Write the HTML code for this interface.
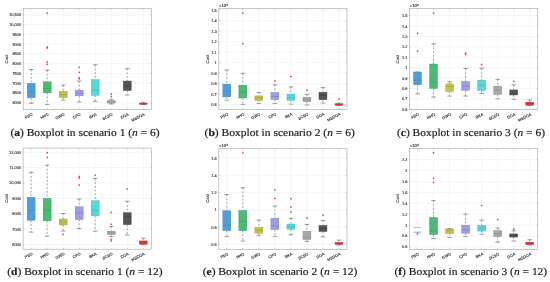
<!DOCTYPE html>
<html><head><meta charset="utf-8"><title>Boxplots</title>
<style>
html,body{margin:0;padding:0;background:#fff;}
body{width:550px;height:282px;overflow:hidden;}
svg{display:block;text-rendering:geometricPrecision;}
.tk{font-family:"Liberation Sans",Arial,sans-serif;font-size:3.9px;fill:#333;stroke:#333;stroke-width:0.14px;}
.xl{font-family:"Liberation Sans",Arial,sans-serif;font-size:3.9px;fill:#333;stroke:#333;stroke-width:0.14px;}
.yl{font-family:"Liberation Sans",Arial,sans-serif;font-size:4.2px;fill:#333;stroke:#333;stroke-width:0.08px;}
.cap{font-family:"Liberation Serif","Times New Roman",serif;font-size:10.6px;fill:#1a1a1a;stroke:#1a1a1a;stroke-width:0.18px;}
</style></head><body>
<svg width="550" height="282" viewBox="0 0 550 282">
<rect width="550" height="282" fill="#fff"/>
<line x1="23.20" y1="102.80" x2="151.30" y2="102.80" stroke="#ededed" stroke-width="0.5"/>
<line x1="23.20" y1="93.02" x2="151.30" y2="93.02" stroke="#ededed" stroke-width="0.5"/>
<line x1="23.20" y1="83.24" x2="151.30" y2="83.24" stroke="#ededed" stroke-width="0.5"/>
<line x1="23.20" y1="73.46" x2="151.30" y2="73.46" stroke="#ededed" stroke-width="0.5"/>
<line x1="23.20" y1="63.68" x2="151.30" y2="63.68" stroke="#ededed" stroke-width="0.5"/>
<line x1="23.20" y1="53.90" x2="151.30" y2="53.90" stroke="#ededed" stroke-width="0.5"/>
<line x1="23.20" y1="44.12" x2="151.30" y2="44.12" stroke="#ededed" stroke-width="0.5"/>
<line x1="23.20" y1="34.34" x2="151.30" y2="34.34" stroke="#ededed" stroke-width="0.5"/>
<line x1="23.20" y1="24.56" x2="151.30" y2="24.56" stroke="#ededed" stroke-width="0.5"/>
<line x1="23.20" y1="14.78" x2="151.30" y2="14.78" stroke="#ededed" stroke-width="0.5"/>
<line x1="31.21" y1="8.30" x2="31.21" y2="109.70" stroke="#ededed" stroke-width="0.5"/>
<line x1="47.22" y1="8.30" x2="47.22" y2="109.70" stroke="#ededed" stroke-width="0.5"/>
<line x1="63.23" y1="8.30" x2="63.23" y2="109.70" stroke="#ededed" stroke-width="0.5"/>
<line x1="79.24" y1="8.30" x2="79.24" y2="109.70" stroke="#ededed" stroke-width="0.5"/>
<line x1="95.26" y1="8.30" x2="95.26" y2="109.70" stroke="#ededed" stroke-width="0.5"/>
<line x1="111.27" y1="8.30" x2="111.27" y2="109.70" stroke="#ededed" stroke-width="0.5"/>
<line x1="127.28" y1="8.30" x2="127.28" y2="109.70" stroke="#ededed" stroke-width="0.5"/>
<line x1="143.29" y1="8.30" x2="143.29" y2="109.70" stroke="#ededed" stroke-width="0.5"/>
<line x1="31.21" y1="69.50" x2="31.21" y2="83.30" stroke="#585858" stroke-width="0.55" stroke-dasharray="1.8,1.9"/>
<line x1="31.21" y1="97.80" x2="31.21" y2="103.30" stroke="#585858" stroke-width="0.55" stroke-dasharray="1.8,1.9"/>
<line x1="28.91" y1="69.50" x2="33.51" y2="69.50" stroke="#444" stroke-width="0.5"/>
<line x1="28.91" y1="103.30" x2="33.51" y2="103.30" stroke="#444" stroke-width="0.5"/>
<rect x="27.21" y="83.30" width="8" height="14.50" fill="#4d9fdc" stroke="#3479ad" stroke-width="0.3"/>
<line x1="27.21" y1="92.00" x2="35.21" y2="92.00" stroke="#3479ad" stroke-width="0.5" stroke-opacity="0.8"/>
<line x1="47.22" y1="70.10" x2="47.22" y2="81.80" stroke="#585858" stroke-width="0.55" stroke-dasharray="1.8,1.9"/>
<line x1="47.22" y1="92.90" x2="47.22" y2="104.40" stroke="#585858" stroke-width="0.55" stroke-dasharray="1.8,1.9"/>
<line x1="44.92" y1="70.10" x2="49.52" y2="70.10" stroke="#444" stroke-width="0.5"/>
<line x1="44.92" y1="104.40" x2="49.52" y2="104.40" stroke="#444" stroke-width="0.5"/>
<rect x="43.22" y="81.80" width="8" height="11.10" fill="#4bbb73" stroke="#2f8a50" stroke-width="0.3"/>
<line x1="43.22" y1="88.40" x2="51.22" y2="88.40" stroke="#2f8a50" stroke-width="0.5" stroke-opacity="0.8"/>
<path d="M46.27 13.20h1.9M47.22 12.25v1.9" stroke="#d8344c" stroke-width="0.7"/>
<path d="M46.27 47.00h1.9M47.22 46.05v1.9" stroke="#d8344c" stroke-width="0.7"/>
<path d="M46.27 48.00h1.9M47.22 47.05v1.9" stroke="#d8344c" stroke-width="0.7"/>
<path d="M46.27 62.00h1.9M47.22 61.05v1.9" stroke="#d8344c" stroke-width="0.7"/>
<path d="M46.27 64.40h1.9M47.22 63.45v1.9" stroke="#d8344c" stroke-width="0.7"/>
<line x1="63.23" y1="85.20" x2="63.23" y2="91.20" stroke="#585858" stroke-width="0.55" stroke-dasharray="1.8,1.9"/>
<line x1="63.23" y1="97.60" x2="63.23" y2="100.10" stroke="#585858" stroke-width="0.55" stroke-dasharray="1.8,1.9"/>
<line x1="60.93" y1="85.20" x2="65.53" y2="85.20" stroke="#444" stroke-width="0.5"/>
<line x1="60.93" y1="100.10" x2="65.53" y2="100.10" stroke="#444" stroke-width="0.5"/>
<rect x="59.23" y="91.20" width="8" height="6.40" fill="#c0c24a" stroke="#8c8e22" stroke-width="0.3"/>
<line x1="59.23" y1="94.80" x2="67.23" y2="94.80" stroke="#8c8e22" stroke-width="0.5" stroke-opacity="0.8"/>
<line x1="79.24" y1="81.00" x2="79.24" y2="90.10" stroke="#585858" stroke-width="0.55" stroke-dasharray="1.8,1.9"/>
<line x1="79.24" y1="95.90" x2="79.24" y2="102.00" stroke="#585858" stroke-width="0.55" stroke-dasharray="1.8,1.9"/>
<line x1="76.94" y1="81.00" x2="81.54" y2="81.00" stroke="#444" stroke-width="0.5"/>
<line x1="76.94" y1="102.00" x2="81.54" y2="102.00" stroke="#444" stroke-width="0.5"/>
<rect x="75.24" y="90.10" width="8" height="5.80" fill="#9d9de8" stroke="#6c6cc0" stroke-width="0.3"/>
<line x1="75.24" y1="93.30" x2="83.24" y2="93.30" stroke="#6c6cc0" stroke-width="0.5" stroke-opacity="0.8"/>
<path d="M78.29 67.30h1.9M79.24 66.35v1.9" stroke="#d8344c" stroke-width="0.7"/>
<path d="M78.29 72.40h1.9M79.24 71.45v1.9" stroke="#d8344c" stroke-width="0.7"/>
<path d="M78.29 77.80h1.9M79.24 76.85v1.9" stroke="#d8344c" stroke-width="0.7"/>
<path d="M78.29 78.80h1.9M79.24 77.85v1.9" stroke="#d8344c" stroke-width="0.7"/>
<line x1="95.26" y1="64.80" x2="95.26" y2="79.50" stroke="#585858" stroke-width="0.55" stroke-dasharray="1.8,1.9"/>
<line x1="95.26" y1="95.40" x2="95.26" y2="101.40" stroke="#585858" stroke-width="0.55" stroke-dasharray="1.8,1.9"/>
<line x1="92.96" y1="64.80" x2="97.56" y2="64.80" stroke="#444" stroke-width="0.5"/>
<line x1="92.96" y1="101.40" x2="97.56" y2="101.40" stroke="#444" stroke-width="0.5"/>
<rect x="91.26" y="79.50" width="8" height="15.90" fill="#58d7d7" stroke="#2ea3a3" stroke-width="0.3"/>
<line x1="91.26" y1="90.10" x2="99.26" y2="90.10" stroke="#2ea3a3" stroke-width="0.5" stroke-opacity="0.8"/>
<line x1="111.27" y1="99.30" x2="111.27" y2="100.50" stroke="#585858" stroke-width="0.55" stroke-dasharray="1.8,1.9"/>
<line x1="111.27" y1="103.10" x2="111.27" y2="104.00" stroke="#585858" stroke-width="0.55" stroke-dasharray="1.8,1.9"/>
<line x1="108.97" y1="99.30" x2="113.57" y2="99.30" stroke="#444" stroke-width="0.5"/>
<line x1="108.97" y1="104.00" x2="113.57" y2="104.00" stroke="#444" stroke-width="0.5"/>
<rect x="107.27" y="100.50" width="8" height="2.60" fill="#a8a8a8" stroke="#777777" stroke-width="0.3"/>
<line x1="107.27" y1="102.00" x2="115.27" y2="102.00" stroke="#777777" stroke-width="0.5" stroke-opacity="0.8"/>
<path d="M110.32 94.10h1.9M111.27 93.15v1.9" stroke="#d8344c" stroke-width="0.7"/>
<path d="M110.32 96.70h1.9M111.27 95.75v1.9" stroke="#d8344c" stroke-width="0.7"/>
<line x1="127.28" y1="68.70" x2="127.28" y2="81.00" stroke="#585858" stroke-width="0.55" stroke-dasharray="1.8,1.9"/>
<line x1="127.28" y1="90.60" x2="127.28" y2="95.00" stroke="#585858" stroke-width="0.55" stroke-dasharray="1.8,1.9"/>
<line x1="124.98" y1="68.70" x2="129.58" y2="68.70" stroke="#444" stroke-width="0.5"/>
<line x1="124.98" y1="95.00" x2="129.58" y2="95.00" stroke="#444" stroke-width="0.5"/>
<rect x="123.28" y="81.00" width="8" height="9.60" fill="#555555" stroke="#333333" stroke-width="0.3"/>
<line x1="123.28" y1="85.90" x2="131.28" y2="85.90" stroke="#333333" stroke-width="0.5" stroke-opacity="0.8"/>
<line x1="143.29" y1="102.20" x2="143.29" y2="103.10" stroke="#585858" stroke-width="0.55" stroke-dasharray="1.8,1.9"/>
<line x1="140.99" y1="102.20" x2="145.59" y2="102.20" stroke="#444" stroke-width="0.5"/>
<line x1="140.99" y1="104.60" x2="145.59" y2="104.60" stroke="#444" stroke-width="0.5"/>
<rect x="139.29" y="103.10" width="8" height="1.30" fill="#e8383a" stroke="#b81c1e" stroke-width="0.3"/>
<line x1="139.29" y1="103.70" x2="147.29" y2="103.70" stroke="#b81c1e" stroke-width="0.5" stroke-opacity="0.8"/>
<rect x="23.20" y="8.30" width="128.10" height="101.40" fill="none" stroke="#a6a6a6" stroke-width="0.6"/>
<line x1="23.20" y1="102.80" x2="24.40" y2="102.80" stroke="#a6a6a6" stroke-width="0.5"/>
<line x1="150.10" y1="102.80" x2="151.30" y2="102.80" stroke="#a6a6a6" stroke-width="0.5"/>
<text x="21.10" y="104.25" text-anchor="end" class="tk">6000</text>
<line x1="23.20" y1="93.02" x2="24.40" y2="93.02" stroke="#a6a6a6" stroke-width="0.5"/>
<line x1="150.10" y1="93.02" x2="151.30" y2="93.02" stroke="#a6a6a6" stroke-width="0.5"/>
<text x="21.10" y="94.47" text-anchor="end" class="tk">6500</text>
<line x1="23.20" y1="83.24" x2="24.40" y2="83.24" stroke="#a6a6a6" stroke-width="0.5"/>
<line x1="150.10" y1="83.24" x2="151.30" y2="83.24" stroke="#a6a6a6" stroke-width="0.5"/>
<text x="21.10" y="84.69" text-anchor="end" class="tk">7000</text>
<line x1="23.20" y1="73.46" x2="24.40" y2="73.46" stroke="#a6a6a6" stroke-width="0.5"/>
<line x1="150.10" y1="73.46" x2="151.30" y2="73.46" stroke="#a6a6a6" stroke-width="0.5"/>
<text x="21.10" y="74.91" text-anchor="end" class="tk">7500</text>
<line x1="23.20" y1="63.68" x2="24.40" y2="63.68" stroke="#a6a6a6" stroke-width="0.5"/>
<line x1="150.10" y1="63.68" x2="151.30" y2="63.68" stroke="#a6a6a6" stroke-width="0.5"/>
<text x="21.10" y="65.13" text-anchor="end" class="tk">8000</text>
<line x1="23.20" y1="53.90" x2="24.40" y2="53.90" stroke="#a6a6a6" stroke-width="0.5"/>
<line x1="150.10" y1="53.90" x2="151.30" y2="53.90" stroke="#a6a6a6" stroke-width="0.5"/>
<text x="21.10" y="55.35" text-anchor="end" class="tk">8500</text>
<line x1="23.20" y1="44.12" x2="24.40" y2="44.12" stroke="#a6a6a6" stroke-width="0.5"/>
<line x1="150.10" y1="44.12" x2="151.30" y2="44.12" stroke="#a6a6a6" stroke-width="0.5"/>
<text x="21.10" y="45.57" text-anchor="end" class="tk">9000</text>
<line x1="23.20" y1="34.34" x2="24.40" y2="34.34" stroke="#a6a6a6" stroke-width="0.5"/>
<line x1="150.10" y1="34.34" x2="151.30" y2="34.34" stroke="#a6a6a6" stroke-width="0.5"/>
<text x="21.10" y="35.79" text-anchor="end" class="tk">9500</text>
<line x1="23.20" y1="24.56" x2="24.40" y2="24.56" stroke="#a6a6a6" stroke-width="0.5"/>
<line x1="150.10" y1="24.56" x2="151.30" y2="24.56" stroke="#a6a6a6" stroke-width="0.5"/>
<text x="21.10" y="26.01" text-anchor="end" class="tk">10,000</text>
<line x1="23.20" y1="14.78" x2="24.40" y2="14.78" stroke="#a6a6a6" stroke-width="0.5"/>
<line x1="150.10" y1="14.78" x2="151.30" y2="14.78" stroke="#a6a6a6" stroke-width="0.5"/>
<text x="21.10" y="16.23" text-anchor="end" class="tk">10,500</text>
<line x1="31.21" y1="109.70" x2="31.21" y2="108.50" stroke="#a6a6a6" stroke-width="0.5"/>
<line x1="31.21" y1="8.30" x2="31.21" y2="9.50" stroke="#a6a6a6" stroke-width="0.5"/>
<text transform="translate(31.81,112.90) rotate(-27)" text-anchor="end" class="xl" dy="2.6">PSO</text>
<line x1="47.22" y1="109.70" x2="47.22" y2="108.50" stroke="#a6a6a6" stroke-width="0.5"/>
<line x1="47.22" y1="8.30" x2="47.22" y2="9.50" stroke="#a6a6a6" stroke-width="0.5"/>
<text transform="translate(47.82,112.90) rotate(-27)" text-anchor="end" class="xl" dy="2.6">HHO</text>
<line x1="63.23" y1="109.70" x2="63.23" y2="108.50" stroke="#a6a6a6" stroke-width="0.5"/>
<line x1="63.23" y1="8.30" x2="63.23" y2="9.50" stroke="#a6a6a6" stroke-width="0.5"/>
<text transform="translate(63.83,112.90) rotate(-27)" text-anchor="end" class="xl" dy="2.6">GWO</text>
<line x1="79.24" y1="109.70" x2="79.24" y2="108.50" stroke="#a6a6a6" stroke-width="0.5"/>
<line x1="79.24" y1="8.30" x2="79.24" y2="9.50" stroke="#a6a6a6" stroke-width="0.5"/>
<text transform="translate(79.84,112.90) rotate(-27)" text-anchor="end" class="xl" dy="2.6">CPO</text>
<line x1="95.26" y1="109.70" x2="95.26" y2="108.50" stroke="#a6a6a6" stroke-width="0.5"/>
<line x1="95.26" y1="8.30" x2="95.26" y2="9.50" stroke="#a6a6a6" stroke-width="0.5"/>
<text transform="translate(95.86,112.90) rotate(-27)" text-anchor="end" class="xl" dy="2.6">BKA</text>
<line x1="111.27" y1="109.70" x2="111.27" y2="108.50" stroke="#a6a6a6" stroke-width="0.5"/>
<line x1="111.27" y1="8.30" x2="111.27" y2="9.50" stroke="#a6a6a6" stroke-width="0.5"/>
<text transform="translate(111.87,112.90) rotate(-27)" text-anchor="end" class="xl" dy="2.6">SCSO</text>
<line x1="127.28" y1="109.70" x2="127.28" y2="108.50" stroke="#a6a6a6" stroke-width="0.5"/>
<line x1="127.28" y1="8.30" x2="127.28" y2="9.50" stroke="#a6a6a6" stroke-width="0.5"/>
<text transform="translate(127.88,112.90) rotate(-27)" text-anchor="end" class="xl" dy="2.6">DOA</text>
<line x1="143.29" y1="109.70" x2="143.29" y2="108.50" stroke="#a6a6a6" stroke-width="0.5"/>
<line x1="143.29" y1="8.30" x2="143.29" y2="9.50" stroke="#a6a6a6" stroke-width="0.5"/>
<text transform="translate(143.89,112.90) rotate(-27)" text-anchor="end" class="xl" dy="2.6">MSDOA</text>
<text transform="translate(7.90,59.20) rotate(-90)" text-anchor="middle" class="yl">Cost</text>
<text x="10.40" y="135.80" class="cap" textLength="149.30" lengthAdjust="spacingAndGlyphs">(<tspan font-weight="bold">a</tspan>) Boxplot in scenario 1 (<tspan font-style="italic">n</tspan> = 6)</text>
<line x1="218.80" y1="104.60" x2="347.00" y2="104.60" stroke="#ededed" stroke-width="0.5"/>
<line x1="218.80" y1="94.11" x2="347.00" y2="94.11" stroke="#ededed" stroke-width="0.5"/>
<line x1="218.80" y1="83.62" x2="347.00" y2="83.62" stroke="#ededed" stroke-width="0.5"/>
<line x1="218.80" y1="73.13" x2="347.00" y2="73.13" stroke="#ededed" stroke-width="0.5"/>
<line x1="218.80" y1="62.64" x2="347.00" y2="62.64" stroke="#ededed" stroke-width="0.5"/>
<line x1="218.80" y1="52.15" x2="347.00" y2="52.15" stroke="#ededed" stroke-width="0.5"/>
<line x1="218.80" y1="41.66" x2="347.00" y2="41.66" stroke="#ededed" stroke-width="0.5"/>
<line x1="218.80" y1="31.17" x2="347.00" y2="31.17" stroke="#ededed" stroke-width="0.5"/>
<line x1="218.80" y1="20.68" x2="347.00" y2="20.68" stroke="#ededed" stroke-width="0.5"/>
<line x1="218.80" y1="10.19" x2="347.00" y2="10.19" stroke="#ededed" stroke-width="0.5"/>
<line x1="226.81" y1="8.50" x2="226.81" y2="109.50" stroke="#ededed" stroke-width="0.5"/>
<line x1="242.84" y1="8.50" x2="242.84" y2="109.50" stroke="#ededed" stroke-width="0.5"/>
<line x1="258.86" y1="8.50" x2="258.86" y2="109.50" stroke="#ededed" stroke-width="0.5"/>
<line x1="274.89" y1="8.50" x2="274.89" y2="109.50" stroke="#ededed" stroke-width="0.5"/>
<line x1="290.91" y1="8.50" x2="290.91" y2="109.50" stroke="#ededed" stroke-width="0.5"/>
<line x1="306.94" y1="8.50" x2="306.94" y2="109.50" stroke="#ededed" stroke-width="0.5"/>
<line x1="322.96" y1="8.50" x2="322.96" y2="109.50" stroke="#ededed" stroke-width="0.5"/>
<line x1="338.99" y1="8.50" x2="338.99" y2="109.50" stroke="#ededed" stroke-width="0.5"/>
<line x1="226.81" y1="69.90" x2="226.81" y2="84.10" stroke="#585858" stroke-width="0.55" stroke-dasharray="1.8,1.9"/>
<line x1="226.81" y1="96.90" x2="226.81" y2="100.10" stroke="#585858" stroke-width="0.55" stroke-dasharray="1.8,1.9"/>
<line x1="224.51" y1="69.90" x2="229.11" y2="69.90" stroke="#444" stroke-width="0.5"/>
<line x1="224.51" y1="100.10" x2="229.11" y2="100.10" stroke="#444" stroke-width="0.5"/>
<rect x="222.81" y="84.10" width="8" height="12.80" fill="#4d9fdc" stroke="#3479ad" stroke-width="0.3"/>
<line x1="222.81" y1="91.20" x2="230.81" y2="91.20" stroke="#3479ad" stroke-width="0.5" stroke-opacity="0.8"/>
<line x1="242.84" y1="73.30" x2="242.84" y2="85.20" stroke="#585858" stroke-width="0.55" stroke-dasharray="1.8,1.9"/>
<line x1="242.84" y1="98.00" x2="242.84" y2="104.40" stroke="#585858" stroke-width="0.55" stroke-dasharray="1.8,1.9"/>
<line x1="240.54" y1="73.30" x2="245.14" y2="73.30" stroke="#444" stroke-width="0.5"/>
<line x1="240.54" y1="104.40" x2="245.14" y2="104.40" stroke="#444" stroke-width="0.5"/>
<rect x="238.84" y="85.20" width="8" height="12.80" fill="#4bbb73" stroke="#2f8a50" stroke-width="0.3"/>
<line x1="238.84" y1="92.20" x2="246.84" y2="92.20" stroke="#2f8a50" stroke-width="0.5" stroke-opacity="0.8"/>
<path d="M241.89 13.20h1.9M242.84 12.25v1.9" stroke="#d8344c" stroke-width="0.7"/>
<path d="M241.89 43.60h1.9M242.84 42.65v1.9" stroke="#d8344c" stroke-width="0.7"/>
<line x1="258.86" y1="92.40" x2="258.86" y2="95.90" stroke="#585858" stroke-width="0.55" stroke-dasharray="1.8,1.9"/>
<line x1="258.86" y1="100.50" x2="258.86" y2="103.50" stroke="#585858" stroke-width="0.55" stroke-dasharray="1.8,1.9"/>
<line x1="256.56" y1="92.40" x2="261.16" y2="92.40" stroke="#444" stroke-width="0.5"/>
<line x1="256.56" y1="103.50" x2="261.16" y2="103.50" stroke="#444" stroke-width="0.5"/>
<rect x="254.86" y="95.90" width="8" height="4.60" fill="#c0c24a" stroke="#8c8e22" stroke-width="0.3"/>
<line x1="254.86" y1="98.20" x2="262.86" y2="98.20" stroke="#8c8e22" stroke-width="0.5" stroke-opacity="0.8"/>
<line x1="274.89" y1="84.80" x2="274.89" y2="92.40" stroke="#585858" stroke-width="0.55" stroke-dasharray="1.8,1.9"/>
<line x1="274.89" y1="99.70" x2="274.89" y2="103.50" stroke="#585858" stroke-width="0.55" stroke-dasharray="1.8,1.9"/>
<line x1="272.59" y1="84.80" x2="277.19" y2="84.80" stroke="#444" stroke-width="0.5"/>
<line x1="272.59" y1="103.50" x2="277.19" y2="103.50" stroke="#444" stroke-width="0.5"/>
<rect x="270.89" y="92.40" width="8" height="7.30" fill="#9d9de8" stroke="#6c6cc0" stroke-width="0.3"/>
<line x1="270.89" y1="96.50" x2="278.89" y2="96.50" stroke="#6c6cc0" stroke-width="0.5" stroke-opacity="0.8"/>
<path d="M273.94 81.00h1.9M274.89 80.05v1.9" stroke="#d8344c" stroke-width="0.7"/>
<line x1="290.91" y1="86.90" x2="290.91" y2="94.10" stroke="#585858" stroke-width="0.55" stroke-dasharray="1.8,1.9"/>
<line x1="290.91" y1="100.50" x2="290.91" y2="104.10" stroke="#585858" stroke-width="0.55" stroke-dasharray="1.8,1.9"/>
<line x1="288.61" y1="86.90" x2="293.21" y2="86.90" stroke="#444" stroke-width="0.5"/>
<line x1="288.61" y1="104.10" x2="293.21" y2="104.10" stroke="#444" stroke-width="0.5"/>
<rect x="286.91" y="94.10" width="8" height="6.40" fill="#58d7d7" stroke="#2ea3a3" stroke-width="0.3"/>
<line x1="286.91" y1="98.00" x2="294.91" y2="98.00" stroke="#2ea3a3" stroke-width="0.5" stroke-opacity="0.8"/>
<path d="M289.96 76.50h1.9M290.91 75.55v1.9" stroke="#d8344c" stroke-width="0.7"/>
<line x1="306.94" y1="94.40" x2="306.94" y2="97.30" stroke="#585858" stroke-width="0.55" stroke-dasharray="1.8,1.9"/>
<line x1="306.94" y1="101.80" x2="306.94" y2="105.00" stroke="#585858" stroke-width="0.55" stroke-dasharray="1.8,1.9"/>
<line x1="304.64" y1="94.40" x2="309.24" y2="94.40" stroke="#444" stroke-width="0.5"/>
<line x1="304.64" y1="105.00" x2="309.24" y2="105.00" stroke="#444" stroke-width="0.5"/>
<rect x="302.94" y="97.30" width="8" height="4.50" fill="#a8a8a8" stroke="#777777" stroke-width="0.3"/>
<line x1="302.94" y1="99.30" x2="310.94" y2="99.30" stroke="#777777" stroke-width="0.5" stroke-opacity="0.8"/>
<path d="M305.99 90.10h1.9M306.94 89.15v1.9" stroke="#d8344c" stroke-width="0.7"/>
<line x1="322.96" y1="87.60" x2="322.96" y2="92.20" stroke="#585858" stroke-width="0.55" stroke-dasharray="1.8,1.9"/>
<line x1="322.96" y1="99.70" x2="322.96" y2="103.10" stroke="#585858" stroke-width="0.55" stroke-dasharray="1.8,1.9"/>
<line x1="320.66" y1="87.60" x2="325.26" y2="87.60" stroke="#444" stroke-width="0.5"/>
<line x1="320.66" y1="103.10" x2="325.26" y2="103.10" stroke="#444" stroke-width="0.5"/>
<rect x="318.96" y="92.20" width="8" height="7.50" fill="#555555" stroke="#333333" stroke-width="0.3"/>
<line x1="318.96" y1="95.40" x2="326.96" y2="95.40" stroke="#333333" stroke-width="0.5" stroke-opacity="0.8"/>
<line x1="338.99" y1="103.20" x2="338.99" y2="103.70" stroke="#585858" stroke-width="0.55" stroke-dasharray="1.8,1.9"/>
<line x1="336.69" y1="103.20" x2="341.29" y2="103.20" stroke="#444" stroke-width="0.5"/>
<line x1="336.69" y1="105.50" x2="341.29" y2="105.50" stroke="#444" stroke-width="0.5"/>
<rect x="334.99" y="103.70" width="8" height="1.50" fill="#e8383a" stroke="#b81c1e" stroke-width="0.3"/>
<line x1="334.99" y1="104.40" x2="342.99" y2="104.40" stroke="#b81c1e" stroke-width="0.5" stroke-opacity="0.8"/>
<path d="M338.04 99.00h1.9M338.99 98.05v1.9" stroke="#d8344c" stroke-width="0.7"/>
<rect x="218.80" y="8.50" width="128.20" height="101.00" fill="none" stroke="#a6a6a6" stroke-width="0.6"/>
<line x1="218.80" y1="104.60" x2="220.00" y2="104.60" stroke="#a6a6a6" stroke-width="0.5"/>
<line x1="345.80" y1="104.60" x2="347.00" y2="104.60" stroke="#a6a6a6" stroke-width="0.5"/>
<text x="216.70" y="106.05" text-anchor="end" class="tk">0.6</text>
<line x1="218.80" y1="94.11" x2="220.00" y2="94.11" stroke="#a6a6a6" stroke-width="0.5"/>
<line x1="345.80" y1="94.11" x2="347.00" y2="94.11" stroke="#a6a6a6" stroke-width="0.5"/>
<text x="216.70" y="95.56" text-anchor="end" class="tk">0.7</text>
<line x1="218.80" y1="83.62" x2="220.00" y2="83.62" stroke="#a6a6a6" stroke-width="0.5"/>
<line x1="345.80" y1="83.62" x2="347.00" y2="83.62" stroke="#a6a6a6" stroke-width="0.5"/>
<text x="216.70" y="85.07" text-anchor="end" class="tk">0.8</text>
<line x1="218.80" y1="73.13" x2="220.00" y2="73.13" stroke="#a6a6a6" stroke-width="0.5"/>
<line x1="345.80" y1="73.13" x2="347.00" y2="73.13" stroke="#a6a6a6" stroke-width="0.5"/>
<text x="216.70" y="74.58" text-anchor="end" class="tk">0.9</text>
<line x1="218.80" y1="62.64" x2="220.00" y2="62.64" stroke="#a6a6a6" stroke-width="0.5"/>
<line x1="345.80" y1="62.64" x2="347.00" y2="62.64" stroke="#a6a6a6" stroke-width="0.5"/>
<text x="216.70" y="64.09" text-anchor="end" class="tk">1</text>
<line x1="218.80" y1="52.15" x2="220.00" y2="52.15" stroke="#a6a6a6" stroke-width="0.5"/>
<line x1="345.80" y1="52.15" x2="347.00" y2="52.15" stroke="#a6a6a6" stroke-width="0.5"/>
<text x="216.70" y="53.60" text-anchor="end" class="tk">1.1</text>
<line x1="218.80" y1="41.66" x2="220.00" y2="41.66" stroke="#a6a6a6" stroke-width="0.5"/>
<line x1="345.80" y1="41.66" x2="347.00" y2="41.66" stroke="#a6a6a6" stroke-width="0.5"/>
<text x="216.70" y="43.11" text-anchor="end" class="tk">1.2</text>
<line x1="218.80" y1="31.17" x2="220.00" y2="31.17" stroke="#a6a6a6" stroke-width="0.5"/>
<line x1="345.80" y1="31.17" x2="347.00" y2="31.17" stroke="#a6a6a6" stroke-width="0.5"/>
<text x="216.70" y="32.62" text-anchor="end" class="tk">1.3</text>
<line x1="218.80" y1="20.68" x2="220.00" y2="20.68" stroke="#a6a6a6" stroke-width="0.5"/>
<line x1="345.80" y1="20.68" x2="347.00" y2="20.68" stroke="#a6a6a6" stroke-width="0.5"/>
<text x="216.70" y="22.13" text-anchor="end" class="tk">1.4</text>
<line x1="218.80" y1="10.19" x2="220.00" y2="10.19" stroke="#a6a6a6" stroke-width="0.5"/>
<line x1="345.80" y1="10.19" x2="347.00" y2="10.19" stroke="#a6a6a6" stroke-width="0.5"/>
<text x="216.70" y="11.64" text-anchor="end" class="tk">1.5</text>
<line x1="226.81" y1="109.50" x2="226.81" y2="108.30" stroke="#a6a6a6" stroke-width="0.5"/>
<line x1="226.81" y1="8.50" x2="226.81" y2="9.70" stroke="#a6a6a6" stroke-width="0.5"/>
<text transform="translate(227.41,112.70) rotate(-27)" text-anchor="end" class="xl" dy="2.6">PSO</text>
<line x1="242.84" y1="109.50" x2="242.84" y2="108.30" stroke="#a6a6a6" stroke-width="0.5"/>
<line x1="242.84" y1="8.50" x2="242.84" y2="9.70" stroke="#a6a6a6" stroke-width="0.5"/>
<text transform="translate(243.44,112.70) rotate(-27)" text-anchor="end" class="xl" dy="2.6">HHO</text>
<line x1="258.86" y1="109.50" x2="258.86" y2="108.30" stroke="#a6a6a6" stroke-width="0.5"/>
<line x1="258.86" y1="8.50" x2="258.86" y2="9.70" stroke="#a6a6a6" stroke-width="0.5"/>
<text transform="translate(259.46,112.70) rotate(-27)" text-anchor="end" class="xl" dy="2.6">GWO</text>
<line x1="274.89" y1="109.50" x2="274.89" y2="108.30" stroke="#a6a6a6" stroke-width="0.5"/>
<line x1="274.89" y1="8.50" x2="274.89" y2="9.70" stroke="#a6a6a6" stroke-width="0.5"/>
<text transform="translate(275.49,112.70) rotate(-27)" text-anchor="end" class="xl" dy="2.6">CPO</text>
<line x1="290.91" y1="109.50" x2="290.91" y2="108.30" stroke="#a6a6a6" stroke-width="0.5"/>
<line x1="290.91" y1="8.50" x2="290.91" y2="9.70" stroke="#a6a6a6" stroke-width="0.5"/>
<text transform="translate(291.51,112.70) rotate(-27)" text-anchor="end" class="xl" dy="2.6">BKA</text>
<line x1="306.94" y1="109.50" x2="306.94" y2="108.30" stroke="#a6a6a6" stroke-width="0.5"/>
<line x1="306.94" y1="8.50" x2="306.94" y2="9.70" stroke="#a6a6a6" stroke-width="0.5"/>
<text transform="translate(307.54,112.70) rotate(-27)" text-anchor="end" class="xl" dy="2.6">SCSO</text>
<line x1="322.96" y1="109.50" x2="322.96" y2="108.30" stroke="#a6a6a6" stroke-width="0.5"/>
<line x1="322.96" y1="8.50" x2="322.96" y2="9.70" stroke="#a6a6a6" stroke-width="0.5"/>
<text transform="translate(323.56,112.70) rotate(-27)" text-anchor="end" class="xl" dy="2.6">DOA</text>
<line x1="338.99" y1="109.50" x2="338.99" y2="108.30" stroke="#a6a6a6" stroke-width="0.5"/>
<line x1="338.99" y1="8.50" x2="338.99" y2="9.70" stroke="#a6a6a6" stroke-width="0.5"/>
<text transform="translate(339.59,112.70) rotate(-27)" text-anchor="end" class="xl" dy="2.6">MSDOA</text>
<text transform="translate(208.70,59.20) rotate(-90)" text-anchor="middle" class="yl">Cost</text>
<text x="219.20" y="7.40" class="tk" style="font-size:4.3px"><tspan style="font-size:3.4px">&#215;</tspan><tspan dx="0.3">10</tspan><tspan dy="-1.6" style="font-size:3px">4</tspan></text>
<text x="204.60" y="135.80" class="cap" textLength="150.20" lengthAdjust="spacingAndGlyphs">(<tspan font-weight="bold">b</tspan>) Boxplot in scenario 2 (<tspan font-style="italic">n</tspan> = 6)</text>
<line x1="409.50" y1="109.30" x2="537.80" y2="109.30" stroke="#ededed" stroke-width="0.5"/>
<line x1="409.50" y1="98.90" x2="537.80" y2="98.90" stroke="#ededed" stroke-width="0.5"/>
<line x1="409.50" y1="88.50" x2="537.80" y2="88.50" stroke="#ededed" stroke-width="0.5"/>
<line x1="409.50" y1="78.10" x2="537.80" y2="78.10" stroke="#ededed" stroke-width="0.5"/>
<line x1="409.50" y1="67.70" x2="537.80" y2="67.70" stroke="#ededed" stroke-width="0.5"/>
<line x1="409.50" y1="57.30" x2="537.80" y2="57.30" stroke="#ededed" stroke-width="0.5"/>
<line x1="409.50" y1="46.90" x2="537.80" y2="46.90" stroke="#ededed" stroke-width="0.5"/>
<line x1="409.50" y1="36.50" x2="537.80" y2="36.50" stroke="#ededed" stroke-width="0.5"/>
<line x1="409.50" y1="26.10" x2="537.80" y2="26.10" stroke="#ededed" stroke-width="0.5"/>
<line x1="409.50" y1="15.70" x2="537.80" y2="15.70" stroke="#ededed" stroke-width="0.5"/>
<line x1="417.52" y1="8.50" x2="417.52" y2="109.70" stroke="#ededed" stroke-width="0.5"/>
<line x1="433.56" y1="8.50" x2="433.56" y2="109.70" stroke="#ededed" stroke-width="0.5"/>
<line x1="449.59" y1="8.50" x2="449.59" y2="109.70" stroke="#ededed" stroke-width="0.5"/>
<line x1="465.63" y1="8.50" x2="465.63" y2="109.70" stroke="#ededed" stroke-width="0.5"/>
<line x1="481.67" y1="8.50" x2="481.67" y2="109.70" stroke="#ededed" stroke-width="0.5"/>
<line x1="497.71" y1="8.50" x2="497.71" y2="109.70" stroke="#ededed" stroke-width="0.5"/>
<line x1="513.74" y1="8.50" x2="513.74" y2="109.70" stroke="#ededed" stroke-width="0.5"/>
<line x1="529.78" y1="8.50" x2="529.78" y2="109.70" stroke="#ededed" stroke-width="0.5"/>
<line x1="417.52" y1="84.80" x2="417.52" y2="93.90" stroke="#585858" stroke-width="0.55" stroke-dasharray="1.8,1.9"/>
<line x1="415.22" y1="72.00" x2="419.82" y2="72.00" stroke="#444" stroke-width="0.5"/>
<line x1="415.22" y1="93.90" x2="419.82" y2="93.90" stroke="#444" stroke-width="0.5"/>
<rect x="413.52" y="72.00" width="8" height="12.80" fill="#4d9fdc" stroke="#3479ad" stroke-width="0.3"/>
<line x1="413.52" y1="80.10" x2="421.52" y2="80.10" stroke="#3479ad" stroke-width="0.5" stroke-opacity="0.8"/>
<path d="M416.57 33.40h1.9M417.52 32.45v1.9" stroke="#d8344c" stroke-width="0.7"/>
<path d="M416.57 51.10h1.9M417.52 50.15v1.9" stroke="#d8344c" stroke-width="0.7"/>
<line x1="433.56" y1="43.80" x2="433.56" y2="64.00" stroke="#585858" stroke-width="0.55" stroke-dasharray="1.8,1.9"/>
<line x1="433.56" y1="88.50" x2="433.56" y2="97.10" stroke="#585858" stroke-width="0.55" stroke-dasharray="1.8,1.9"/>
<line x1="431.26" y1="43.80" x2="435.86" y2="43.80" stroke="#444" stroke-width="0.5"/>
<line x1="431.26" y1="97.10" x2="435.86" y2="97.10" stroke="#444" stroke-width="0.5"/>
<rect x="429.56" y="64.00" width="8" height="24.50" fill="#4bbb73" stroke="#2f8a50" stroke-width="0.3"/>
<line x1="429.56" y1="82.20" x2="437.56" y2="82.20" stroke="#2f8a50" stroke-width="0.5" stroke-opacity="0.8"/>
<path d="M432.61 13.20h1.9M433.56 12.25v1.9" stroke="#d8344c" stroke-width="0.7"/>
<line x1="449.59" y1="81.80" x2="449.59" y2="83.90" stroke="#585858" stroke-width="0.55" stroke-dasharray="1.8,1.9"/>
<line x1="449.59" y1="91.60" x2="449.59" y2="96.10" stroke="#585858" stroke-width="0.55" stroke-dasharray="1.8,1.9"/>
<line x1="447.29" y1="81.80" x2="451.89" y2="81.80" stroke="#444" stroke-width="0.5"/>
<line x1="447.29" y1="96.10" x2="451.89" y2="96.10" stroke="#444" stroke-width="0.5"/>
<rect x="445.59" y="83.90" width="8" height="7.70" fill="#c0c24a" stroke="#8c8e22" stroke-width="0.3"/>
<line x1="445.59" y1="86.50" x2="453.59" y2="86.50" stroke="#8c8e22" stroke-width="0.5" stroke-opacity="0.8"/>
<line x1="465.63" y1="68.50" x2="465.63" y2="81.40" stroke="#585858" stroke-width="0.55" stroke-dasharray="1.8,1.9"/>
<line x1="465.63" y1="90.30" x2="465.63" y2="96.10" stroke="#585858" stroke-width="0.55" stroke-dasharray="1.8,1.9"/>
<line x1="463.33" y1="68.50" x2="467.93" y2="68.50" stroke="#444" stroke-width="0.5"/>
<line x1="463.33" y1="96.10" x2="467.93" y2="96.10" stroke="#444" stroke-width="0.5"/>
<rect x="461.63" y="81.40" width="8" height="8.90" fill="#9d9de8" stroke="#6c6cc0" stroke-width="0.3"/>
<line x1="461.63" y1="86.10" x2="469.63" y2="86.10" stroke="#6c6cc0" stroke-width="0.5" stroke-opacity="0.8"/>
<path d="M464.68 53.00h1.9M465.63 52.05v1.9" stroke="#d8344c" stroke-width="0.7"/>
<path d="M464.68 54.50h1.9M465.63 53.55v1.9" stroke="#d8344c" stroke-width="0.7"/>
<line x1="481.67" y1="68.20" x2="481.67" y2="80.10" stroke="#585858" stroke-width="0.55" stroke-dasharray="1.8,1.9"/>
<line x1="481.67" y1="90.50" x2="481.67" y2="93.50" stroke="#585858" stroke-width="0.55" stroke-dasharray="1.8,1.9"/>
<line x1="479.37" y1="68.20" x2="483.97" y2="68.20" stroke="#444" stroke-width="0.5"/>
<line x1="479.37" y1="93.50" x2="483.97" y2="93.50" stroke="#444" stroke-width="0.5"/>
<rect x="477.67" y="80.10" width="8" height="10.40" fill="#58d7d7" stroke="#2ea3a3" stroke-width="0.3"/>
<line x1="477.67" y1="85.20" x2="485.67" y2="85.20" stroke="#2ea3a3" stroke-width="0.5" stroke-opacity="0.8"/>
<path d="M480.72 64.50h1.9M481.67 63.55v1.9" stroke="#d8344c" stroke-width="0.7"/>
<line x1="497.71" y1="79.30" x2="497.71" y2="86.10" stroke="#585858" stroke-width="0.55" stroke-dasharray="1.8,1.9"/>
<line x1="497.71" y1="94.60" x2="497.71" y2="98.80" stroke="#585858" stroke-width="0.55" stroke-dasharray="1.8,1.9"/>
<line x1="495.41" y1="79.30" x2="500.01" y2="79.30" stroke="#444" stroke-width="0.5"/>
<line x1="495.41" y1="98.80" x2="500.01" y2="98.80" stroke="#444" stroke-width="0.5"/>
<rect x="493.71" y="86.10" width="8" height="8.50" fill="#a8a8a8" stroke="#777777" stroke-width="0.3"/>
<line x1="493.71" y1="90.30" x2="501.71" y2="90.30" stroke="#777777" stroke-width="0.5" stroke-opacity="0.8"/>
<line x1="513.74" y1="84.80" x2="513.74" y2="89.90" stroke="#585858" stroke-width="0.55" stroke-dasharray="1.8,1.9"/>
<line x1="513.74" y1="95.00" x2="513.74" y2="99.30" stroke="#585858" stroke-width="0.55" stroke-dasharray="1.8,1.9"/>
<line x1="511.44" y1="84.80" x2="516.04" y2="84.80" stroke="#444" stroke-width="0.5"/>
<line x1="511.44" y1="99.30" x2="516.04" y2="99.30" stroke="#444" stroke-width="0.5"/>
<rect x="509.74" y="89.90" width="8" height="5.10" fill="#555555" stroke="#333333" stroke-width="0.3"/>
<line x1="509.74" y1="92.90" x2="517.74" y2="92.90" stroke="#333333" stroke-width="0.5" stroke-opacity="0.8"/>
<path d="M512.79 81.40h1.9M513.74 80.45v1.9" stroke="#d8344c" stroke-width="0.7"/>
<line x1="529.78" y1="100.10" x2="529.78" y2="102.20" stroke="#585858" stroke-width="0.55" stroke-dasharray="1.8,1.9"/>
<line x1="527.48" y1="100.10" x2="532.08" y2="100.10" stroke="#444" stroke-width="0.5"/>
<line x1="527.48" y1="105.50" x2="532.08" y2="105.50" stroke="#444" stroke-width="0.5"/>
<rect x="525.78" y="102.20" width="8" height="3.00" fill="#e8383a" stroke="#b81c1e" stroke-width="0.3"/>
<line x1="525.78" y1="103.50" x2="533.78" y2="103.50" stroke="#b81c1e" stroke-width="0.5" stroke-opacity="0.8"/>
<rect x="409.50" y="8.50" width="128.30" height="101.20" fill="none" stroke="#a6a6a6" stroke-width="0.6"/>
<line x1="409.50" y1="109.30" x2="410.70" y2="109.30" stroke="#a6a6a6" stroke-width="0.5"/>
<line x1="536.60" y1="109.30" x2="537.80" y2="109.30" stroke="#a6a6a6" stroke-width="0.5"/>
<text x="407.40" y="110.75" text-anchor="end" class="tk">0.6</text>
<line x1="409.50" y1="98.90" x2="410.70" y2="98.90" stroke="#a6a6a6" stroke-width="0.5"/>
<line x1="536.60" y1="98.90" x2="537.80" y2="98.90" stroke="#a6a6a6" stroke-width="0.5"/>
<text x="407.40" y="100.35" text-anchor="end" class="tk">0.7</text>
<line x1="409.50" y1="88.50" x2="410.70" y2="88.50" stroke="#a6a6a6" stroke-width="0.5"/>
<line x1="536.60" y1="88.50" x2="537.80" y2="88.50" stroke="#a6a6a6" stroke-width="0.5"/>
<text x="407.40" y="89.95" text-anchor="end" class="tk">0.8</text>
<line x1="409.50" y1="78.10" x2="410.70" y2="78.10" stroke="#a6a6a6" stroke-width="0.5"/>
<line x1="536.60" y1="78.10" x2="537.80" y2="78.10" stroke="#a6a6a6" stroke-width="0.5"/>
<text x="407.40" y="79.55" text-anchor="end" class="tk">0.9</text>
<line x1="409.50" y1="67.70" x2="410.70" y2="67.70" stroke="#a6a6a6" stroke-width="0.5"/>
<line x1="536.60" y1="67.70" x2="537.80" y2="67.70" stroke="#a6a6a6" stroke-width="0.5"/>
<text x="407.40" y="69.15" text-anchor="end" class="tk">1</text>
<line x1="409.50" y1="57.30" x2="410.70" y2="57.30" stroke="#a6a6a6" stroke-width="0.5"/>
<line x1="536.60" y1="57.30" x2="537.80" y2="57.30" stroke="#a6a6a6" stroke-width="0.5"/>
<text x="407.40" y="58.75" text-anchor="end" class="tk">1.1</text>
<line x1="409.50" y1="46.90" x2="410.70" y2="46.90" stroke="#a6a6a6" stroke-width="0.5"/>
<line x1="536.60" y1="46.90" x2="537.80" y2="46.90" stroke="#a6a6a6" stroke-width="0.5"/>
<text x="407.40" y="48.35" text-anchor="end" class="tk">1.2</text>
<line x1="409.50" y1="36.50" x2="410.70" y2="36.50" stroke="#a6a6a6" stroke-width="0.5"/>
<line x1="536.60" y1="36.50" x2="537.80" y2="36.50" stroke="#a6a6a6" stroke-width="0.5"/>
<text x="407.40" y="37.95" text-anchor="end" class="tk">1.3</text>
<line x1="409.50" y1="26.10" x2="410.70" y2="26.10" stroke="#a6a6a6" stroke-width="0.5"/>
<line x1="536.60" y1="26.10" x2="537.80" y2="26.10" stroke="#a6a6a6" stroke-width="0.5"/>
<text x="407.40" y="27.55" text-anchor="end" class="tk">1.4</text>
<line x1="409.50" y1="15.70" x2="410.70" y2="15.70" stroke="#a6a6a6" stroke-width="0.5"/>
<line x1="536.60" y1="15.70" x2="537.80" y2="15.70" stroke="#a6a6a6" stroke-width="0.5"/>
<text x="407.40" y="17.15" text-anchor="end" class="tk">1.5</text>
<line x1="417.52" y1="109.70" x2="417.52" y2="108.50" stroke="#a6a6a6" stroke-width="0.5"/>
<line x1="417.52" y1="8.50" x2="417.52" y2="9.70" stroke="#a6a6a6" stroke-width="0.5"/>
<text transform="translate(418.12,112.90) rotate(-27)" text-anchor="end" class="xl" dy="2.6">PSO</text>
<line x1="433.56" y1="109.70" x2="433.56" y2="108.50" stroke="#a6a6a6" stroke-width="0.5"/>
<line x1="433.56" y1="8.50" x2="433.56" y2="9.70" stroke="#a6a6a6" stroke-width="0.5"/>
<text transform="translate(434.16,112.90) rotate(-27)" text-anchor="end" class="xl" dy="2.6">HHO</text>
<line x1="449.59" y1="109.70" x2="449.59" y2="108.50" stroke="#a6a6a6" stroke-width="0.5"/>
<line x1="449.59" y1="8.50" x2="449.59" y2="9.70" stroke="#a6a6a6" stroke-width="0.5"/>
<text transform="translate(450.19,112.90) rotate(-27)" text-anchor="end" class="xl" dy="2.6">GWO</text>
<line x1="465.63" y1="109.70" x2="465.63" y2="108.50" stroke="#a6a6a6" stroke-width="0.5"/>
<line x1="465.63" y1="8.50" x2="465.63" y2="9.70" stroke="#a6a6a6" stroke-width="0.5"/>
<text transform="translate(466.23,112.90) rotate(-27)" text-anchor="end" class="xl" dy="2.6">CPO</text>
<line x1="481.67" y1="109.70" x2="481.67" y2="108.50" stroke="#a6a6a6" stroke-width="0.5"/>
<line x1="481.67" y1="8.50" x2="481.67" y2="9.70" stroke="#a6a6a6" stroke-width="0.5"/>
<text transform="translate(482.27,112.90) rotate(-27)" text-anchor="end" class="xl" dy="2.6">BKA</text>
<line x1="497.71" y1="109.70" x2="497.71" y2="108.50" stroke="#a6a6a6" stroke-width="0.5"/>
<line x1="497.71" y1="8.50" x2="497.71" y2="9.70" stroke="#a6a6a6" stroke-width="0.5"/>
<text transform="translate(498.31,112.90) rotate(-27)" text-anchor="end" class="xl" dy="2.6">SCSO</text>
<line x1="513.74" y1="109.70" x2="513.74" y2="108.50" stroke="#a6a6a6" stroke-width="0.5"/>
<line x1="513.74" y1="8.50" x2="513.74" y2="9.70" stroke="#a6a6a6" stroke-width="0.5"/>
<text transform="translate(514.34,112.90) rotate(-27)" text-anchor="end" class="xl" dy="2.6">DOA</text>
<line x1="529.78" y1="109.70" x2="529.78" y2="108.50" stroke="#a6a6a6" stroke-width="0.5"/>
<line x1="529.78" y1="8.50" x2="529.78" y2="9.70" stroke="#a6a6a6" stroke-width="0.5"/>
<text transform="translate(530.38,112.90) rotate(-27)" text-anchor="end" class="xl" dy="2.6">MSDOA</text>
<text transform="translate(399.30,59.30) rotate(-90)" text-anchor="middle" class="yl">Cost</text>
<text x="409.90" y="7.40" class="tk" style="font-size:4.3px"><tspan style="font-size:3.4px">&#215;</tspan><tspan dx="0.3">10</tspan><tspan dy="-1.6" style="font-size:3px">4</tspan></text>
<text x="397.00" y="135.80" class="cap" textLength="148.00" lengthAdjust="spacingAndGlyphs">(<tspan font-weight="bold">c</tspan>) Boxplot in scenario 3 (<tspan font-style="italic">n</tspan> = 6)</text>
<line x1="23.10" y1="244.50" x2="151.30" y2="244.50" stroke="#ededed" stroke-width="0.5"/>
<line x1="23.10" y1="229.13" x2="151.30" y2="229.13" stroke="#ededed" stroke-width="0.5"/>
<line x1="23.10" y1="213.76" x2="151.30" y2="213.76" stroke="#ededed" stroke-width="0.5"/>
<line x1="23.10" y1="198.39" x2="151.30" y2="198.39" stroke="#ededed" stroke-width="0.5"/>
<line x1="23.10" y1="183.02" x2="151.30" y2="183.02" stroke="#ededed" stroke-width="0.5"/>
<line x1="23.10" y1="167.65" x2="151.30" y2="167.65" stroke="#ededed" stroke-width="0.5"/>
<line x1="23.10" y1="152.28" x2="151.30" y2="152.28" stroke="#ededed" stroke-width="0.5"/>
<line x1="31.11" y1="148.10" x2="31.11" y2="249.20" stroke="#ededed" stroke-width="0.5"/>
<line x1="47.14" y1="148.10" x2="47.14" y2="249.20" stroke="#ededed" stroke-width="0.5"/>
<line x1="63.16" y1="148.10" x2="63.16" y2="249.20" stroke="#ededed" stroke-width="0.5"/>
<line x1="79.19" y1="148.10" x2="79.19" y2="249.20" stroke="#ededed" stroke-width="0.5"/>
<line x1="95.21" y1="148.10" x2="95.21" y2="249.20" stroke="#ededed" stroke-width="0.5"/>
<line x1="111.24" y1="148.10" x2="111.24" y2="249.20" stroke="#ededed" stroke-width="0.5"/>
<line x1="127.26" y1="148.10" x2="127.26" y2="249.20" stroke="#ededed" stroke-width="0.5"/>
<line x1="143.29" y1="148.10" x2="143.29" y2="249.20" stroke="#ededed" stroke-width="0.5"/>
<line x1="31.11" y1="172.30" x2="31.11" y2="197.20" stroke="#585858" stroke-width="0.55" stroke-dasharray="1.8,1.9"/>
<line x1="31.11" y1="220.40" x2="31.11" y2="232.10" stroke="#585858" stroke-width="0.55" stroke-dasharray="1.8,1.9"/>
<line x1="28.81" y1="172.30" x2="33.41" y2="172.30" stroke="#444" stroke-width="0.5"/>
<line x1="28.81" y1="232.10" x2="33.41" y2="232.10" stroke="#444" stroke-width="0.5"/>
<rect x="27.11" y="197.20" width="8" height="23.20" fill="#4d9fdc" stroke="#3479ad" stroke-width="0.3"/>
<line x1="27.11" y1="210.60" x2="35.11" y2="210.60" stroke="#3479ad" stroke-width="0.5" stroke-opacity="0.8"/>
<line x1="47.14" y1="165.10" x2="47.14" y2="198.30" stroke="#585858" stroke-width="0.55" stroke-dasharray="1.8,1.9"/>
<line x1="47.14" y1="220.90" x2="47.14" y2="236.20" stroke="#585858" stroke-width="0.55" stroke-dasharray="1.8,1.9"/>
<line x1="44.84" y1="165.10" x2="49.44" y2="165.10" stroke="#444" stroke-width="0.5"/>
<line x1="44.84" y1="236.20" x2="49.44" y2="236.20" stroke="#444" stroke-width="0.5"/>
<rect x="43.14" y="198.30" width="8" height="22.60" fill="#4bbb73" stroke="#2f8a50" stroke-width="0.3"/>
<line x1="43.14" y1="210.00" x2="51.14" y2="210.00" stroke="#2f8a50" stroke-width="0.5" stroke-opacity="0.8"/>
<path d="M46.19 152.80h1.9M47.14 151.85v1.9" stroke="#d8344c" stroke-width="0.7"/>
<path d="M46.19 157.40h1.9M47.14 156.45v1.9" stroke="#d8344c" stroke-width="0.7"/>
<line x1="63.16" y1="213.50" x2="63.16" y2="219.00" stroke="#585858" stroke-width="0.55" stroke-dasharray="1.8,1.9"/>
<line x1="63.16" y1="225.00" x2="63.16" y2="231.00" stroke="#585858" stroke-width="0.55" stroke-dasharray="1.8,1.9"/>
<line x1="60.86" y1="213.50" x2="65.46" y2="213.50" stroke="#444" stroke-width="0.5"/>
<line x1="60.86" y1="231.00" x2="65.46" y2="231.00" stroke="#444" stroke-width="0.5"/>
<rect x="59.16" y="219.00" width="8" height="6.00" fill="#c0c24a" stroke="#8c8e22" stroke-width="0.3"/>
<line x1="59.16" y1="222.00" x2="67.16" y2="222.00" stroke="#8c8e22" stroke-width="0.5" stroke-opacity="0.8"/>
<path d="M62.21 234.40h1.9M63.16 233.45v1.9" stroke="#d8344c" stroke-width="0.7"/>
<line x1="79.19" y1="199.00" x2="79.19" y2="206.70" stroke="#585858" stroke-width="0.55" stroke-dasharray="1.8,1.9"/>
<line x1="79.19" y1="219.70" x2="79.19" y2="228.60" stroke="#585858" stroke-width="0.55" stroke-dasharray="1.8,1.9"/>
<line x1="76.89" y1="199.00" x2="81.49" y2="199.00" stroke="#444" stroke-width="0.5"/>
<line x1="76.89" y1="228.60" x2="81.49" y2="228.60" stroke="#444" stroke-width="0.5"/>
<rect x="75.19" y="206.70" width="8" height="13.00" fill="#9d9de8" stroke="#6c6cc0" stroke-width="0.3"/>
<line x1="75.19" y1="213.10" x2="83.19" y2="213.10" stroke="#6c6cc0" stroke-width="0.5" stroke-opacity="0.8"/>
<path d="M78.24 176.60h1.9M79.19 175.65v1.9" stroke="#d8344c" stroke-width="0.7"/>
<path d="M78.24 178.10h1.9M79.19 177.15v1.9" stroke="#d8344c" stroke-width="0.7"/>
<path d="M78.24 185.10h1.9M79.19 184.15v1.9" stroke="#d8344c" stroke-width="0.7"/>
<line x1="95.21" y1="178.50" x2="95.21" y2="200.70" stroke="#585858" stroke-width="0.55" stroke-dasharray="1.8,1.9"/>
<line x1="95.21" y1="215.90" x2="95.21" y2="231.20" stroke="#585858" stroke-width="0.55" stroke-dasharray="1.8,1.9"/>
<line x1="92.91" y1="178.50" x2="97.51" y2="178.50" stroke="#444" stroke-width="0.5"/>
<line x1="92.91" y1="231.20" x2="97.51" y2="231.20" stroke="#444" stroke-width="0.5"/>
<rect x="91.21" y="200.70" width="8" height="15.20" fill="#58d7d7" stroke="#2ea3a3" stroke-width="0.3"/>
<line x1="91.21" y1="210.30" x2="99.21" y2="210.30" stroke="#2ea3a3" stroke-width="0.5" stroke-opacity="0.8"/>
<path d="M94.26 175.30h1.9M95.21 174.35v1.9" stroke="#d8344c" stroke-width="0.7"/>
<line x1="111.24" y1="226.50" x2="111.24" y2="231.20" stroke="#585858" stroke-width="0.55" stroke-dasharray="1.8,1.9"/>
<line x1="111.24" y1="234.60" x2="111.24" y2="236.60" stroke="#585858" stroke-width="0.55" stroke-dasharray="1.8,1.9"/>
<line x1="108.94" y1="226.50" x2="113.54" y2="226.50" stroke="#444" stroke-width="0.5"/>
<line x1="108.94" y1="236.60" x2="113.54" y2="236.60" stroke="#444" stroke-width="0.5"/>
<rect x="107.24" y="231.20" width="8" height="3.40" fill="#a8a8a8" stroke="#777777" stroke-width="0.3"/>
<line x1="107.24" y1="232.90" x2="115.24" y2="232.90" stroke="#777777" stroke-width="0.5" stroke-opacity="0.8"/>
<path d="M110.29 212.40h1.9M111.24 211.45v1.9" stroke="#d8344c" stroke-width="0.7"/>
<path d="M110.29 224.40h1.9M111.24 223.45v1.9" stroke="#d8344c" stroke-width="0.7"/>
<path d="M110.29 239.30h1.9M111.24 238.35v1.9" stroke="#d8344c" stroke-width="0.7"/>
<path d="M110.29 241.00h1.9M111.24 240.05v1.9" stroke="#d8344c" stroke-width="0.7"/>
<line x1="127.26" y1="201.30" x2="127.26" y2="212.60" stroke="#585858" stroke-width="0.55" stroke-dasharray="1.8,1.9"/>
<line x1="127.26" y1="224.70" x2="127.26" y2="234.90" stroke="#585858" stroke-width="0.55" stroke-dasharray="1.8,1.9"/>
<line x1="124.96" y1="201.30" x2="129.56" y2="201.30" stroke="#444" stroke-width="0.5"/>
<line x1="124.96" y1="234.90" x2="129.56" y2="234.90" stroke="#444" stroke-width="0.5"/>
<rect x="123.26" y="212.60" width="8" height="12.10" fill="#555555" stroke="#333333" stroke-width="0.3"/>
<line x1="123.26" y1="216.60" x2="131.26" y2="216.60" stroke="#333333" stroke-width="0.5" stroke-opacity="0.8"/>
<path d="M126.31 188.90h1.9M127.26 187.95v1.9" stroke="#d8344c" stroke-width="0.7"/>
<line x1="143.29" y1="238.10" x2="143.29" y2="240.90" stroke="#585858" stroke-width="0.55" stroke-dasharray="1.8,1.9"/>
<line x1="143.29" y1="244.30" x2="143.29" y2="244.70" stroke="#585858" stroke-width="0.55" stroke-dasharray="1.8,1.9"/>
<line x1="140.99" y1="238.10" x2="145.59" y2="238.10" stroke="#444" stroke-width="0.5"/>
<line x1="140.99" y1="244.70" x2="145.59" y2="244.70" stroke="#444" stroke-width="0.5"/>
<rect x="139.29" y="240.90" width="8" height="3.40" fill="#e8383a" stroke="#b81c1e" stroke-width="0.3"/>
<line x1="139.29" y1="242.60" x2="147.29" y2="242.60" stroke="#b81c1e" stroke-width="0.5" stroke-opacity="0.8"/>
<rect x="23.10" y="148.10" width="128.20" height="101.10" fill="none" stroke="#a6a6a6" stroke-width="0.6"/>
<line x1="23.10" y1="244.50" x2="24.30" y2="244.50" stroke="#a6a6a6" stroke-width="0.5"/>
<line x1="150.10" y1="244.50" x2="151.30" y2="244.50" stroke="#a6a6a6" stroke-width="0.5"/>
<text x="21.00" y="245.95" text-anchor="end" class="tk">6000</text>
<line x1="23.10" y1="229.13" x2="24.30" y2="229.13" stroke="#a6a6a6" stroke-width="0.5"/>
<line x1="150.10" y1="229.13" x2="151.30" y2="229.13" stroke="#a6a6a6" stroke-width="0.5"/>
<text x="21.00" y="230.58" text-anchor="end" class="tk">7000</text>
<line x1="23.10" y1="213.76" x2="24.30" y2="213.76" stroke="#a6a6a6" stroke-width="0.5"/>
<line x1="150.10" y1="213.76" x2="151.30" y2="213.76" stroke="#a6a6a6" stroke-width="0.5"/>
<text x="21.00" y="215.21" text-anchor="end" class="tk">8000</text>
<line x1="23.10" y1="198.39" x2="24.30" y2="198.39" stroke="#a6a6a6" stroke-width="0.5"/>
<line x1="150.10" y1="198.39" x2="151.30" y2="198.39" stroke="#a6a6a6" stroke-width="0.5"/>
<text x="21.00" y="199.84" text-anchor="end" class="tk">9000</text>
<line x1="23.10" y1="183.02" x2="24.30" y2="183.02" stroke="#a6a6a6" stroke-width="0.5"/>
<line x1="150.10" y1="183.02" x2="151.30" y2="183.02" stroke="#a6a6a6" stroke-width="0.5"/>
<text x="21.00" y="184.47" text-anchor="end" class="tk">10,000</text>
<line x1="23.10" y1="167.65" x2="24.30" y2="167.65" stroke="#a6a6a6" stroke-width="0.5"/>
<line x1="150.10" y1="167.65" x2="151.30" y2="167.65" stroke="#a6a6a6" stroke-width="0.5"/>
<text x="21.00" y="169.10" text-anchor="end" class="tk">11,000</text>
<line x1="23.10" y1="152.28" x2="24.30" y2="152.28" stroke="#a6a6a6" stroke-width="0.5"/>
<line x1="150.10" y1="152.28" x2="151.30" y2="152.28" stroke="#a6a6a6" stroke-width="0.5"/>
<text x="21.00" y="153.73" text-anchor="end" class="tk">12,000</text>
<line x1="31.11" y1="249.20" x2="31.11" y2="248.00" stroke="#a6a6a6" stroke-width="0.5"/>
<line x1="31.11" y1="148.10" x2="31.11" y2="149.30" stroke="#a6a6a6" stroke-width="0.5"/>
<text transform="translate(31.71,252.40) rotate(-27)" text-anchor="end" class="xl" dy="2.6">PSO</text>
<line x1="47.14" y1="249.20" x2="47.14" y2="248.00" stroke="#a6a6a6" stroke-width="0.5"/>
<line x1="47.14" y1="148.10" x2="47.14" y2="149.30" stroke="#a6a6a6" stroke-width="0.5"/>
<text transform="translate(47.74,252.40) rotate(-27)" text-anchor="end" class="xl" dy="2.6">HHO</text>
<line x1="63.16" y1="249.20" x2="63.16" y2="248.00" stroke="#a6a6a6" stroke-width="0.5"/>
<line x1="63.16" y1="148.10" x2="63.16" y2="149.30" stroke="#a6a6a6" stroke-width="0.5"/>
<text transform="translate(63.76,252.40) rotate(-27)" text-anchor="end" class="xl" dy="2.6">GWO</text>
<line x1="79.19" y1="249.20" x2="79.19" y2="248.00" stroke="#a6a6a6" stroke-width="0.5"/>
<line x1="79.19" y1="148.10" x2="79.19" y2="149.30" stroke="#a6a6a6" stroke-width="0.5"/>
<text transform="translate(79.79,252.40) rotate(-27)" text-anchor="end" class="xl" dy="2.6">CPO</text>
<line x1="95.21" y1="249.20" x2="95.21" y2="248.00" stroke="#a6a6a6" stroke-width="0.5"/>
<line x1="95.21" y1="148.10" x2="95.21" y2="149.30" stroke="#a6a6a6" stroke-width="0.5"/>
<text transform="translate(95.81,252.40) rotate(-27)" text-anchor="end" class="xl" dy="2.6">BKA</text>
<line x1="111.24" y1="249.20" x2="111.24" y2="248.00" stroke="#a6a6a6" stroke-width="0.5"/>
<line x1="111.24" y1="148.10" x2="111.24" y2="149.30" stroke="#a6a6a6" stroke-width="0.5"/>
<text transform="translate(111.84,252.40) rotate(-27)" text-anchor="end" class="xl" dy="2.6">SCSO</text>
<line x1="127.26" y1="249.20" x2="127.26" y2="248.00" stroke="#a6a6a6" stroke-width="0.5"/>
<line x1="127.26" y1="148.10" x2="127.26" y2="149.30" stroke="#a6a6a6" stroke-width="0.5"/>
<text transform="translate(127.86,252.40) rotate(-27)" text-anchor="end" class="xl" dy="2.6">DOA</text>
<line x1="143.29" y1="249.20" x2="143.29" y2="248.00" stroke="#a6a6a6" stroke-width="0.5"/>
<line x1="143.29" y1="148.10" x2="143.29" y2="149.30" stroke="#a6a6a6" stroke-width="0.5"/>
<text transform="translate(143.89,252.40) rotate(-27)" text-anchor="end" class="xl" dy="2.6">MSDOA</text>
<text transform="translate(7.90,198.40) rotate(-90)" text-anchor="middle" class="yl">Cost</text>
<text x="7.30" y="275.30" class="cap" textLength="155.30" lengthAdjust="spacingAndGlyphs">(<tspan font-weight="bold">d</tspan>) Boxplot in scenario 1 (<tspan font-style="italic">n</tspan> = 12)</text>
<line x1="218.80" y1="244.40" x2="347.00" y2="244.40" stroke="#ededed" stroke-width="0.5"/>
<line x1="218.80" y1="227.14" x2="347.00" y2="227.14" stroke="#ededed" stroke-width="0.5"/>
<line x1="218.80" y1="209.88" x2="347.00" y2="209.88" stroke="#ededed" stroke-width="0.5"/>
<line x1="218.80" y1="192.62" x2="347.00" y2="192.62" stroke="#ededed" stroke-width="0.5"/>
<line x1="218.80" y1="175.36" x2="347.00" y2="175.36" stroke="#ededed" stroke-width="0.5"/>
<line x1="218.80" y1="158.10" x2="347.00" y2="158.10" stroke="#ededed" stroke-width="0.5"/>
<line x1="226.81" y1="148.50" x2="226.81" y2="249.30" stroke="#ededed" stroke-width="0.5"/>
<line x1="242.84" y1="148.50" x2="242.84" y2="249.30" stroke="#ededed" stroke-width="0.5"/>
<line x1="258.86" y1="148.50" x2="258.86" y2="249.30" stroke="#ededed" stroke-width="0.5"/>
<line x1="274.89" y1="148.50" x2="274.89" y2="249.30" stroke="#ededed" stroke-width="0.5"/>
<line x1="290.91" y1="148.50" x2="290.91" y2="249.30" stroke="#ededed" stroke-width="0.5"/>
<line x1="306.94" y1="148.50" x2="306.94" y2="249.30" stroke="#ededed" stroke-width="0.5"/>
<line x1="322.96" y1="148.50" x2="322.96" y2="249.30" stroke="#ededed" stroke-width="0.5"/>
<line x1="338.99" y1="148.50" x2="338.99" y2="249.30" stroke="#ededed" stroke-width="0.5"/>
<line x1="226.81" y1="194.50" x2="226.81" y2="210.70" stroke="#585858" stroke-width="0.55" stroke-dasharray="1.8,1.9"/>
<line x1="226.81" y1="230.70" x2="226.81" y2="236.70" stroke="#585858" stroke-width="0.55" stroke-dasharray="1.8,1.9"/>
<line x1="224.51" y1="194.50" x2="229.11" y2="194.50" stroke="#444" stroke-width="0.5"/>
<line x1="224.51" y1="236.70" x2="229.11" y2="236.70" stroke="#444" stroke-width="0.5"/>
<rect x="222.81" y="210.70" width="8" height="20.00" fill="#4d9fdc" stroke="#3479ad" stroke-width="0.3"/>
<line x1="222.81" y1="225.20" x2="230.81" y2="225.20" stroke="#3479ad" stroke-width="0.5" stroke-opacity="0.8"/>
<line x1="242.84" y1="187.70" x2="242.84" y2="210.30" stroke="#585858" stroke-width="0.55" stroke-dasharray="1.8,1.9"/>
<line x1="242.84" y1="230.70" x2="242.84" y2="241.00" stroke="#585858" stroke-width="0.55" stroke-dasharray="1.8,1.9"/>
<line x1="240.54" y1="187.70" x2="245.14" y2="187.70" stroke="#444" stroke-width="0.5"/>
<line x1="240.54" y1="241.00" x2="245.14" y2="241.00" stroke="#444" stroke-width="0.5"/>
<rect x="238.84" y="210.30" width="8" height="20.40" fill="#4bbb73" stroke="#2f8a50" stroke-width="0.3"/>
<line x1="238.84" y1="221.40" x2="246.84" y2="221.40" stroke="#2f8a50" stroke-width="0.5" stroke-opacity="0.8"/>
<path d="M241.89 152.80h1.9M242.84 151.85v1.9" stroke="#d8344c" stroke-width="0.7"/>
<line x1="258.86" y1="220.00" x2="258.86" y2="227.40" stroke="#585858" stroke-width="0.55" stroke-dasharray="1.8,1.9"/>
<line x1="258.86" y1="233.20" x2="258.86" y2="235.70" stroke="#585858" stroke-width="0.55" stroke-dasharray="1.8,1.9"/>
<line x1="256.56" y1="220.00" x2="261.16" y2="220.00" stroke="#444" stroke-width="0.5"/>
<line x1="256.56" y1="235.70" x2="261.16" y2="235.70" stroke="#444" stroke-width="0.5"/>
<rect x="254.86" y="227.40" width="8" height="5.80" fill="#c0c24a" stroke="#8c8e22" stroke-width="0.3"/>
<line x1="254.86" y1="230.20" x2="262.86" y2="230.20" stroke="#8c8e22" stroke-width="0.5" stroke-opacity="0.8"/>
<line x1="274.89" y1="206.00" x2="274.89" y2="218.30" stroke="#585858" stroke-width="0.55" stroke-dasharray="1.8,1.9"/>
<line x1="274.89" y1="229.60" x2="274.89" y2="236.40" stroke="#585858" stroke-width="0.55" stroke-dasharray="1.8,1.9"/>
<line x1="272.59" y1="206.00" x2="277.19" y2="206.00" stroke="#444" stroke-width="0.5"/>
<line x1="272.59" y1="236.40" x2="277.19" y2="236.40" stroke="#444" stroke-width="0.5"/>
<rect x="270.89" y="218.30" width="8" height="11.30" fill="#9d9de8" stroke="#6c6cc0" stroke-width="0.3"/>
<line x1="270.89" y1="226.00" x2="278.89" y2="226.00" stroke="#6c6cc0" stroke-width="0.5" stroke-opacity="0.8"/>
<path d="M273.94 189.80h1.9M274.89 188.85v1.9" stroke="#d8344c" stroke-width="0.7"/>
<path d="M273.94 198.50h1.9M274.89 197.55v1.9" stroke="#d8344c" stroke-width="0.7"/>
<line x1="290.91" y1="218.30" x2="290.91" y2="224.00" stroke="#585858" stroke-width="0.55" stroke-dasharray="1.8,1.9"/>
<line x1="290.91" y1="229.40" x2="290.91" y2="234.90" stroke="#585858" stroke-width="0.55" stroke-dasharray="1.8,1.9"/>
<line x1="288.61" y1="218.30" x2="293.21" y2="218.30" stroke="#444" stroke-width="0.5"/>
<line x1="288.61" y1="234.90" x2="293.21" y2="234.90" stroke="#444" stroke-width="0.5"/>
<rect x="286.91" y="224.00" width="8" height="5.40" fill="#58d7d7" stroke="#2ea3a3" stroke-width="0.3"/>
<line x1="286.91" y1="226.80" x2="294.91" y2="226.80" stroke="#2ea3a3" stroke-width="0.5" stroke-opacity="0.8"/>
<path d="M289.96 198.70h1.9M290.91 197.75v1.9" stroke="#d8344c" stroke-width="0.7"/>
<path d="M289.96 207.00h1.9M290.91 206.05v1.9" stroke="#d8344c" stroke-width="0.7"/>
<path d="M289.96 211.90h1.9M290.91 210.95v1.9" stroke="#d8344c" stroke-width="0.7"/>
<line x1="306.94" y1="224.40" x2="306.94" y2="231.20" stroke="#585858" stroke-width="0.55" stroke-dasharray="1.8,1.9"/>
<line x1="306.94" y1="239.70" x2="306.94" y2="241.40" stroke="#585858" stroke-width="0.55" stroke-dasharray="1.8,1.9"/>
<line x1="304.64" y1="224.40" x2="309.24" y2="224.40" stroke="#444" stroke-width="0.5"/>
<line x1="304.64" y1="241.40" x2="309.24" y2="241.40" stroke="#444" stroke-width="0.5"/>
<rect x="302.94" y="231.20" width="8" height="8.50" fill="#a8a8a8" stroke="#777777" stroke-width="0.3"/>
<line x1="302.94" y1="237.10" x2="310.94" y2="237.10" stroke="#777777" stroke-width="0.5" stroke-opacity="0.8"/>
<path d="M305.99 218.00h1.9M306.94 217.05v1.9" stroke="#d8344c" stroke-width="0.7"/>
<line x1="322.96" y1="220.50" x2="322.96" y2="225.40" stroke="#585858" stroke-width="0.55" stroke-dasharray="1.8,1.9"/>
<line x1="322.96" y1="231.60" x2="322.96" y2="236.90" stroke="#585858" stroke-width="0.55" stroke-dasharray="1.8,1.9"/>
<line x1="320.66" y1="220.50" x2="325.26" y2="220.50" stroke="#444" stroke-width="0.5"/>
<line x1="320.66" y1="236.90" x2="325.26" y2="236.90" stroke="#444" stroke-width="0.5"/>
<rect x="318.96" y="225.40" width="8" height="6.20" fill="#555555" stroke="#333333" stroke-width="0.3"/>
<line x1="318.96" y1="228.40" x2="326.96" y2="228.40" stroke="#333333" stroke-width="0.5" stroke-opacity="0.8"/>
<path d="M322.01 215.20h1.9M322.96 214.25v1.9" stroke="#d8344c" stroke-width="0.7"/>
<line x1="338.99" y1="240.10" x2="338.99" y2="242.40" stroke="#585858" stroke-width="0.55" stroke-dasharray="1.8,1.9"/>
<line x1="338.99" y1="244.40" x2="338.99" y2="244.80" stroke="#585858" stroke-width="0.55" stroke-dasharray="1.8,1.9"/>
<line x1="336.69" y1="240.10" x2="341.29" y2="240.10" stroke="#444" stroke-width="0.5"/>
<line x1="336.69" y1="244.80" x2="341.29" y2="244.80" stroke="#444" stroke-width="0.5"/>
<rect x="334.99" y="242.40" width="8" height="2.00" fill="#e8383a" stroke="#b81c1e" stroke-width="0.3"/>
<line x1="334.99" y1="243.40" x2="342.99" y2="243.40" stroke="#b81c1e" stroke-width="0.5" stroke-opacity="0.8"/>
<rect x="218.80" y="148.50" width="128.20" height="100.80" fill="none" stroke="#a6a6a6" stroke-width="0.6"/>
<line x1="218.80" y1="244.40" x2="220.00" y2="244.40" stroke="#a6a6a6" stroke-width="0.5"/>
<line x1="345.80" y1="244.40" x2="347.00" y2="244.40" stroke="#a6a6a6" stroke-width="0.5"/>
<text x="216.70" y="245.85" text-anchor="end" class="tk">0.6</text>
<line x1="218.80" y1="227.14" x2="220.00" y2="227.14" stroke="#a6a6a6" stroke-width="0.5"/>
<line x1="345.80" y1="227.14" x2="347.00" y2="227.14" stroke="#a6a6a6" stroke-width="0.5"/>
<text x="216.70" y="228.59" text-anchor="end" class="tk">0.8</text>
<line x1="218.80" y1="209.88" x2="220.00" y2="209.88" stroke="#a6a6a6" stroke-width="0.5"/>
<line x1="345.80" y1="209.88" x2="347.00" y2="209.88" stroke="#a6a6a6" stroke-width="0.5"/>
<text x="216.70" y="211.33" text-anchor="end" class="tk">1</text>
<line x1="218.80" y1="192.62" x2="220.00" y2="192.62" stroke="#a6a6a6" stroke-width="0.5"/>
<line x1="345.80" y1="192.62" x2="347.00" y2="192.62" stroke="#a6a6a6" stroke-width="0.5"/>
<text x="216.70" y="194.07" text-anchor="end" class="tk">1.2</text>
<line x1="218.80" y1="175.36" x2="220.00" y2="175.36" stroke="#a6a6a6" stroke-width="0.5"/>
<line x1="345.80" y1="175.36" x2="347.00" y2="175.36" stroke="#a6a6a6" stroke-width="0.5"/>
<text x="216.70" y="176.81" text-anchor="end" class="tk">1.4</text>
<line x1="218.80" y1="158.10" x2="220.00" y2="158.10" stroke="#a6a6a6" stroke-width="0.5"/>
<line x1="345.80" y1="158.10" x2="347.00" y2="158.10" stroke="#a6a6a6" stroke-width="0.5"/>
<text x="216.70" y="159.55" text-anchor="end" class="tk">1.6</text>
<line x1="226.81" y1="249.30" x2="226.81" y2="248.10" stroke="#a6a6a6" stroke-width="0.5"/>
<line x1="226.81" y1="148.50" x2="226.81" y2="149.70" stroke="#a6a6a6" stroke-width="0.5"/>
<text transform="translate(227.41,252.50) rotate(-27)" text-anchor="end" class="xl" dy="2.6">PSO</text>
<line x1="242.84" y1="249.30" x2="242.84" y2="248.10" stroke="#a6a6a6" stroke-width="0.5"/>
<line x1="242.84" y1="148.50" x2="242.84" y2="149.70" stroke="#a6a6a6" stroke-width="0.5"/>
<text transform="translate(243.44,252.50) rotate(-27)" text-anchor="end" class="xl" dy="2.6">HHO</text>
<line x1="258.86" y1="249.30" x2="258.86" y2="248.10" stroke="#a6a6a6" stroke-width="0.5"/>
<line x1="258.86" y1="148.50" x2="258.86" y2="149.70" stroke="#a6a6a6" stroke-width="0.5"/>
<text transform="translate(259.46,252.50) rotate(-27)" text-anchor="end" class="xl" dy="2.6">GWO</text>
<line x1="274.89" y1="249.30" x2="274.89" y2="248.10" stroke="#a6a6a6" stroke-width="0.5"/>
<line x1="274.89" y1="148.50" x2="274.89" y2="149.70" stroke="#a6a6a6" stroke-width="0.5"/>
<text transform="translate(275.49,252.50) rotate(-27)" text-anchor="end" class="xl" dy="2.6">CPO</text>
<line x1="290.91" y1="249.30" x2="290.91" y2="248.10" stroke="#a6a6a6" stroke-width="0.5"/>
<line x1="290.91" y1="148.50" x2="290.91" y2="149.70" stroke="#a6a6a6" stroke-width="0.5"/>
<text transform="translate(291.51,252.50) rotate(-27)" text-anchor="end" class="xl" dy="2.6">BKA</text>
<line x1="306.94" y1="249.30" x2="306.94" y2="248.10" stroke="#a6a6a6" stroke-width="0.5"/>
<line x1="306.94" y1="148.50" x2="306.94" y2="149.70" stroke="#a6a6a6" stroke-width="0.5"/>
<text transform="translate(307.54,252.50) rotate(-27)" text-anchor="end" class="xl" dy="2.6">SCSO</text>
<line x1="322.96" y1="249.30" x2="322.96" y2="248.10" stroke="#a6a6a6" stroke-width="0.5"/>
<line x1="322.96" y1="148.50" x2="322.96" y2="149.70" stroke="#a6a6a6" stroke-width="0.5"/>
<text transform="translate(323.56,252.50) rotate(-27)" text-anchor="end" class="xl" dy="2.6">DOA</text>
<line x1="338.99" y1="249.30" x2="338.99" y2="248.10" stroke="#a6a6a6" stroke-width="0.5"/>
<line x1="338.99" y1="148.50" x2="338.99" y2="149.70" stroke="#a6a6a6" stroke-width="0.5"/>
<text transform="translate(339.59,252.50) rotate(-27)" text-anchor="end" class="xl" dy="2.6">MSDOA</text>
<text transform="translate(208.80,198.40) rotate(-90)" text-anchor="middle" class="yl">Cost</text>
<text x="219.20" y="147.40" class="tk" style="font-size:4.3px"><tspan style="font-size:3.4px">&#215;</tspan><tspan dx="0.3">10</tspan><tspan dy="-1.6" style="font-size:3px">4</tspan></text>
<text x="202.70" y="275.30" class="cap" textLength="154.70" lengthAdjust="spacingAndGlyphs">(<tspan font-weight="bold">e</tspan>) Boxplot in scenario 2 (<tspan font-style="italic">n</tspan> = 12)</text>
<line x1="409.50" y1="246.90" x2="537.80" y2="246.90" stroke="#ededed" stroke-width="0.5"/>
<line x1="409.50" y1="235.99" x2="537.80" y2="235.99" stroke="#ededed" stroke-width="0.5"/>
<line x1="409.50" y1="225.08" x2="537.80" y2="225.08" stroke="#ededed" stroke-width="0.5"/>
<line x1="409.50" y1="214.17" x2="537.80" y2="214.17" stroke="#ededed" stroke-width="0.5"/>
<line x1="409.50" y1="203.26" x2="537.80" y2="203.26" stroke="#ededed" stroke-width="0.5"/>
<line x1="409.50" y1="192.35" x2="537.80" y2="192.35" stroke="#ededed" stroke-width="0.5"/>
<line x1="409.50" y1="181.44" x2="537.80" y2="181.44" stroke="#ededed" stroke-width="0.5"/>
<line x1="409.50" y1="170.53" x2="537.80" y2="170.53" stroke="#ededed" stroke-width="0.5"/>
<line x1="409.50" y1="159.62" x2="537.80" y2="159.62" stroke="#ededed" stroke-width="0.5"/>
<line x1="417.52" y1="148.50" x2="417.52" y2="249.30" stroke="#ededed" stroke-width="0.5"/>
<line x1="433.56" y1="148.50" x2="433.56" y2="249.30" stroke="#ededed" stroke-width="0.5"/>
<line x1="449.59" y1="148.50" x2="449.59" y2="249.30" stroke="#ededed" stroke-width="0.5"/>
<line x1="465.63" y1="148.50" x2="465.63" y2="249.30" stroke="#ededed" stroke-width="0.5"/>
<line x1="481.67" y1="148.50" x2="481.67" y2="249.30" stroke="#ededed" stroke-width="0.5"/>
<line x1="497.71" y1="148.50" x2="497.71" y2="249.30" stroke="#ededed" stroke-width="0.5"/>
<line x1="513.74" y1="148.50" x2="513.74" y2="249.30" stroke="#ededed" stroke-width="0.5"/>
<line x1="529.78" y1="148.50" x2="529.78" y2="249.30" stroke="#ededed" stroke-width="0.5"/>
<line x1="413.52" y1="227.6" x2="421.52" y2="227.6" stroke="#9aa0a8" stroke-width="0.7"/>
<line x1="413.52" y1="232.2" x2="421.52" y2="232.2" stroke="#3479ad" stroke-width="0.55"/>
<line x1="417.52" y1="232.2" x2="417.52" y2="234.1" stroke="#444" stroke-width="0.5"/>
<line x1="415.72" y1="234.1" x2="419.32" y2="234.1" stroke="#444" stroke-width="0.5"/>
<line x1="433.56" y1="200.60" x2="433.56" y2="217.40" stroke="#585858" stroke-width="0.55" stroke-dasharray="1.8,1.9"/>
<line x1="433.56" y1="234.60" x2="433.56" y2="238.50" stroke="#585858" stroke-width="0.55" stroke-dasharray="1.8,1.9"/>
<line x1="431.26" y1="200.60" x2="435.86" y2="200.60" stroke="#444" stroke-width="0.5"/>
<line x1="431.26" y1="238.50" x2="435.86" y2="238.50" stroke="#444" stroke-width="0.5"/>
<rect x="429.56" y="217.40" width="8" height="17.20" fill="#4bbb73" stroke="#2f8a50" stroke-width="0.3"/>
<line x1="429.56" y1="231.00" x2="437.56" y2="231.00" stroke="#2f8a50" stroke-width="0.5" stroke-opacity="0.8"/>
<path d="M432.61 152.80h1.9M433.56 151.85v1.9" stroke="#d8344c" stroke-width="0.7"/>
<path d="M432.61 178.30h1.9M433.56 177.35v1.9" stroke="#d8344c" stroke-width="0.7"/>
<path d="M432.61 182.60h1.9M433.56 181.65v1.9" stroke="#d8344c" stroke-width="0.7"/>
<line x1="449.59" y1="228.50" x2="449.59" y2="228.90" stroke="#585858" stroke-width="0.55" stroke-dasharray="1.8,1.9"/>
<line x1="449.59" y1="233.60" x2="449.59" y2="237.40" stroke="#585858" stroke-width="0.55" stroke-dasharray="1.8,1.9"/>
<line x1="447.29" y1="228.50" x2="451.89" y2="228.50" stroke="#444" stroke-width="0.5"/>
<line x1="447.29" y1="237.40" x2="451.89" y2="237.40" stroke="#444" stroke-width="0.5"/>
<rect x="445.59" y="228.90" width="8" height="4.70" fill="#c0c24a" stroke="#8c8e22" stroke-width="0.3"/>
<line x1="445.59" y1="230.40" x2="453.59" y2="230.40" stroke="#8c8e22" stroke-width="0.5" stroke-opacity="0.8"/>
<line x1="465.63" y1="214.00" x2="465.63" y2="225.10" stroke="#585858" stroke-width="0.55" stroke-dasharray="1.8,1.9"/>
<line x1="465.63" y1="233.20" x2="465.63" y2="236.40" stroke="#585858" stroke-width="0.55" stroke-dasharray="1.8,1.9"/>
<line x1="463.33" y1="214.00" x2="467.93" y2="214.00" stroke="#444" stroke-width="0.5"/>
<line x1="463.33" y1="236.40" x2="467.93" y2="236.40" stroke="#444" stroke-width="0.5"/>
<rect x="461.63" y="225.10" width="8" height="8.10" fill="#9d9de8" stroke="#6c6cc0" stroke-width="0.3"/>
<line x1="461.63" y1="229.80" x2="469.63" y2="229.80" stroke="#6c6cc0" stroke-width="0.5" stroke-opacity="0.8"/>
<line x1="481.67" y1="220.00" x2="481.67" y2="225.30" stroke="#585858" stroke-width="0.55" stroke-dasharray="1.8,1.9"/>
<line x1="481.67" y1="231.10" x2="481.67" y2="234.30" stroke="#585858" stroke-width="0.55" stroke-dasharray="1.8,1.9"/>
<line x1="479.37" y1="220.00" x2="483.97" y2="220.00" stroke="#444" stroke-width="0.5"/>
<line x1="479.37" y1="234.30" x2="483.97" y2="234.30" stroke="#444" stroke-width="0.5"/>
<rect x="477.67" y="225.30" width="8" height="5.80" fill="#58d7d7" stroke="#2ea3a3" stroke-width="0.3"/>
<line x1="477.67" y1="228.10" x2="485.67" y2="228.10" stroke="#2ea3a3" stroke-width="0.5" stroke-opacity="0.8"/>
<path d="M480.72 205.50h1.9M481.67 204.55v1.9" stroke="#d8344c" stroke-width="0.7"/>
<line x1="497.71" y1="228.00" x2="497.71" y2="230.50" stroke="#585858" stroke-width="0.55" stroke-dasharray="1.8,1.9"/>
<line x1="497.71" y1="236.70" x2="497.71" y2="242.20" stroke="#585858" stroke-width="0.55" stroke-dasharray="1.8,1.9"/>
<line x1="495.41" y1="228.00" x2="500.01" y2="228.00" stroke="#444" stroke-width="0.5"/>
<line x1="495.41" y1="242.20" x2="500.01" y2="242.20" stroke="#444" stroke-width="0.5"/>
<rect x="493.71" y="230.50" width="8" height="6.20" fill="#a8a8a8" stroke="#777777" stroke-width="0.3"/>
<line x1="493.71" y1="233.70" x2="501.71" y2="233.70" stroke="#777777" stroke-width="0.5" stroke-opacity="0.8"/>
<path d="M496.76 219.50h1.9M497.71 218.55v1.9" stroke="#d8344c" stroke-width="0.7"/>
<line x1="513.74" y1="230.70" x2="513.74" y2="233.90" stroke="#585858" stroke-width="0.55" stroke-dasharray="1.8,1.9"/>
<line x1="513.74" y1="237.10" x2="513.74" y2="241.00" stroke="#585858" stroke-width="0.55" stroke-dasharray="1.8,1.9"/>
<line x1="511.44" y1="230.70" x2="516.04" y2="230.70" stroke="#444" stroke-width="0.5"/>
<line x1="511.44" y1="241.00" x2="516.04" y2="241.00" stroke="#444" stroke-width="0.5"/>
<rect x="509.74" y="233.90" width="8" height="3.20" fill="#555555" stroke="#333333" stroke-width="0.3"/>
<line x1="509.74" y1="235.40" x2="517.74" y2="235.40" stroke="#333333" stroke-width="0.5" stroke-opacity="0.8"/>
<path d="M512.79 229.00h1.9M513.74 228.05v1.9" stroke="#d8344c" stroke-width="0.7"/>
<line x1="529.78" y1="239.70" x2="529.78" y2="242.20" stroke="#585858" stroke-width="0.55" stroke-dasharray="1.8,1.9"/>
<line x1="529.78" y1="244.60" x2="529.78" y2="244.90" stroke="#585858" stroke-width="0.55" stroke-dasharray="1.8,1.9"/>
<line x1="527.48" y1="239.70" x2="532.08" y2="239.70" stroke="#444" stroke-width="0.5"/>
<line x1="527.48" y1="244.90" x2="532.08" y2="244.90" stroke="#444" stroke-width="0.5"/>
<rect x="525.78" y="242.20" width="8" height="2.40" fill="#e8383a" stroke="#b81c1e" stroke-width="0.3"/>
<line x1="525.78" y1="243.50" x2="533.78" y2="243.50" stroke="#b81c1e" stroke-width="0.5" stroke-opacity="0.8"/>
<rect x="409.50" y="148.50" width="128.30" height="100.80" fill="none" stroke="#a6a6a6" stroke-width="0.6"/>
<line x1="409.50" y1="246.90" x2="410.70" y2="246.90" stroke="#a6a6a6" stroke-width="0.5"/>
<line x1="536.60" y1="246.90" x2="537.80" y2="246.90" stroke="#a6a6a6" stroke-width="0.5"/>
<text x="407.40" y="248.35" text-anchor="end" class="tk">0.6</text>
<line x1="409.50" y1="235.99" x2="410.70" y2="235.99" stroke="#a6a6a6" stroke-width="0.5"/>
<line x1="536.60" y1="235.99" x2="537.80" y2="235.99" stroke="#a6a6a6" stroke-width="0.5"/>
<text x="407.40" y="237.44" text-anchor="end" class="tk">0.8</text>
<line x1="409.50" y1="225.08" x2="410.70" y2="225.08" stroke="#a6a6a6" stroke-width="0.5"/>
<line x1="536.60" y1="225.08" x2="537.80" y2="225.08" stroke="#a6a6a6" stroke-width="0.5"/>
<text x="407.40" y="226.53" text-anchor="end" class="tk">1</text>
<line x1="409.50" y1="214.17" x2="410.70" y2="214.17" stroke="#a6a6a6" stroke-width="0.5"/>
<line x1="536.60" y1="214.17" x2="537.80" y2="214.17" stroke="#a6a6a6" stroke-width="0.5"/>
<text x="407.40" y="215.62" text-anchor="end" class="tk">1.2</text>
<line x1="409.50" y1="203.26" x2="410.70" y2="203.26" stroke="#a6a6a6" stroke-width="0.5"/>
<line x1="536.60" y1="203.26" x2="537.80" y2="203.26" stroke="#a6a6a6" stroke-width="0.5"/>
<text x="407.40" y="204.71" text-anchor="end" class="tk">1.4</text>
<line x1="409.50" y1="192.35" x2="410.70" y2="192.35" stroke="#a6a6a6" stroke-width="0.5"/>
<line x1="536.60" y1="192.35" x2="537.80" y2="192.35" stroke="#a6a6a6" stroke-width="0.5"/>
<text x="407.40" y="193.80" text-anchor="end" class="tk">1.6</text>
<line x1="409.50" y1="181.44" x2="410.70" y2="181.44" stroke="#a6a6a6" stroke-width="0.5"/>
<line x1="536.60" y1="181.44" x2="537.80" y2="181.44" stroke="#a6a6a6" stroke-width="0.5"/>
<text x="407.40" y="182.89" text-anchor="end" class="tk">1.8</text>
<line x1="409.50" y1="170.53" x2="410.70" y2="170.53" stroke="#a6a6a6" stroke-width="0.5"/>
<line x1="536.60" y1="170.53" x2="537.80" y2="170.53" stroke="#a6a6a6" stroke-width="0.5"/>
<text x="407.40" y="171.98" text-anchor="end" class="tk">2</text>
<line x1="409.50" y1="159.62" x2="410.70" y2="159.62" stroke="#a6a6a6" stroke-width="0.5"/>
<line x1="536.60" y1="159.62" x2="537.80" y2="159.62" stroke="#a6a6a6" stroke-width="0.5"/>
<text x="407.40" y="161.07" text-anchor="end" class="tk">2.2</text>
<line x1="417.52" y1="249.30" x2="417.52" y2="248.10" stroke="#a6a6a6" stroke-width="0.5"/>
<line x1="417.52" y1="148.50" x2="417.52" y2="149.70" stroke="#a6a6a6" stroke-width="0.5"/>
<text transform="translate(418.12,252.50) rotate(-27)" text-anchor="end" class="xl" dy="2.6">PSO</text>
<line x1="433.56" y1="249.30" x2="433.56" y2="248.10" stroke="#a6a6a6" stroke-width="0.5"/>
<line x1="433.56" y1="148.50" x2="433.56" y2="149.70" stroke="#a6a6a6" stroke-width="0.5"/>
<text transform="translate(434.16,252.50) rotate(-27)" text-anchor="end" class="xl" dy="2.6">HHO</text>
<line x1="449.59" y1="249.30" x2="449.59" y2="248.10" stroke="#a6a6a6" stroke-width="0.5"/>
<line x1="449.59" y1="148.50" x2="449.59" y2="149.70" stroke="#a6a6a6" stroke-width="0.5"/>
<text transform="translate(450.19,252.50) rotate(-27)" text-anchor="end" class="xl" dy="2.6">GWO</text>
<line x1="465.63" y1="249.30" x2="465.63" y2="248.10" stroke="#a6a6a6" stroke-width="0.5"/>
<line x1="465.63" y1="148.50" x2="465.63" y2="149.70" stroke="#a6a6a6" stroke-width="0.5"/>
<text transform="translate(466.23,252.50) rotate(-27)" text-anchor="end" class="xl" dy="2.6">CPO</text>
<line x1="481.67" y1="249.30" x2="481.67" y2="248.10" stroke="#a6a6a6" stroke-width="0.5"/>
<line x1="481.67" y1="148.50" x2="481.67" y2="149.70" stroke="#a6a6a6" stroke-width="0.5"/>
<text transform="translate(482.27,252.50) rotate(-27)" text-anchor="end" class="xl" dy="2.6">BKA</text>
<line x1="497.71" y1="249.30" x2="497.71" y2="248.10" stroke="#a6a6a6" stroke-width="0.5"/>
<line x1="497.71" y1="148.50" x2="497.71" y2="149.70" stroke="#a6a6a6" stroke-width="0.5"/>
<text transform="translate(498.31,252.50) rotate(-27)" text-anchor="end" class="xl" dy="2.6">SCSO</text>
<line x1="513.74" y1="249.30" x2="513.74" y2="248.10" stroke="#a6a6a6" stroke-width="0.5"/>
<line x1="513.74" y1="148.50" x2="513.74" y2="149.70" stroke="#a6a6a6" stroke-width="0.5"/>
<text transform="translate(514.34,252.50) rotate(-27)" text-anchor="end" class="xl" dy="2.6">DOA</text>
<line x1="529.78" y1="249.30" x2="529.78" y2="248.10" stroke="#a6a6a6" stroke-width="0.5"/>
<line x1="529.78" y1="148.50" x2="529.78" y2="149.70" stroke="#a6a6a6" stroke-width="0.5"/>
<text transform="translate(530.38,252.50) rotate(-27)" text-anchor="end" class="xl" dy="2.6">MSDOA</text>
<text transform="translate(399.30,198.50) rotate(-90)" text-anchor="middle" class="yl">Cost</text>
<text x="409.90" y="147.40" class="tk" style="font-size:4.3px"><tspan style="font-size:3.4px">&#215;</tspan><tspan dx="0.3">10</tspan><tspan dy="-1.6" style="font-size:3px">4</tspan></text>
<text x="394.40" y="275.30" class="cap" textLength="152.80" lengthAdjust="spacingAndGlyphs">(<tspan font-weight="bold">f</tspan>) Boxplot in scenario 3 (<tspan font-style="italic">n</tspan> = 12)</text>
</svg>
</body></html>
